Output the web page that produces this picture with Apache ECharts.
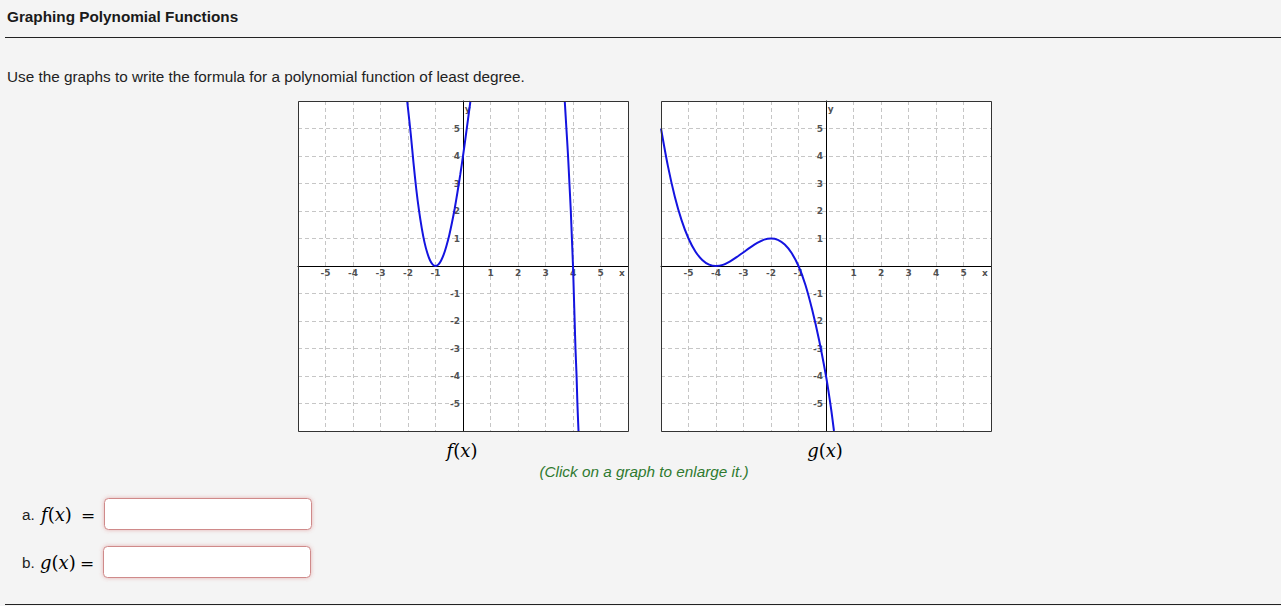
<!DOCTYPE html>
<html>
<head>
<meta charset="utf-8">
<script src="https://cdn.jsdelivr.net/npm/echarts@6/dist/echarts.min.js"></script>
<style>
html,body{margin:0;padding:0;background:#f4f4f4;}
#c{width:1281px;height:606px;}
</style>
</head>
<body>
<div id="c"></div>
<script>
// ---- data ----
const tickValues = [-5, -4, -3, -2, -1, 1, 2, 3, 4, 5];
const axisMin = -6;
const axisMax = 6;

// f(x): left branch (touches x-axis at -1, passes (0,4))
const fLeftX = [-2.03, -1.9, -1.8, -1.7, -1.6, -1.5, -1.4, -1.3, -1.2, -1.1, -1.0, -0.9, -0.8, -0.7, -0.6, -0.5, -0.4, -0.3, -0.2, -0.1, 0.0, 0.1, 0.2, 0.27];
const fLeftY = [6.0, 4.8, 3.75, 2.8, 2.02, 1.38, 0.86, 0.48, 0.21, 0.05, 0.0, 0.05, 0.19, 0.42, 0.74, 1.12, 1.58, 2.1, 2.69, 3.32, 4.0, 4.72, 5.47, 6.0];
// f(x): right branch (crosses at 4)
const fRightX = [3.7, 3.76, 3.82, 3.87, 3.92, 3.96, 4.0, 4.03, 4.06, 4.09, 4.13, 4.16, 4.2];
const fRightY = [6.0, 5.0, 4.0, 3.0, 2.0, 1.0, 0.0, -1.0, -2.0, -3.0, -4.0, -5.0, -6.0];

// g(x): touches at -4, max (-2,1), crosses at -1, passes (0,-4)
const gX = [-6.0, -5.75, -5.5, -5.25, -5.0, -4.75, -4.5, -4.25, -4.0, -3.75, -3.5, -3.25, -3.0, -2.75, -2.5, -2.25, -2.0, -1.75, -1.5, -1.25, -1.0, -0.75, -0.5, -0.25, 0.0, 0.1, 0.2, 0.29];
const gY = [5.0, 3.64, 2.53, 1.66, 1.0, 0.53, 0.22, 0.05, 0.0, 0.04, 0.16, 0.32, 0.5, 0.68, 0.84, 0.96, 1.0, 0.95, 0.78, 0.47, 0.0, -0.68, -1.6, -2.7, -4.0, -4.62, -5.3, -6.0];

const axisNameX = [[5.78, -0.27]];
const axisNameY = [[0.17, 5.72]];

const zip = (xs, ys) => xs.map((x, i) => [x, ys[i]]);

// ---- layout ----
const grids = [
  {left: 298, top: 101, width: 330, height: 330},
  {left: 661, top: 101, width: 330, height: 330}
];

const tickFont = {fontFamily: 'DejaVu Sans', fontWeight: 'bold', fontSize: 9, color: '#222'};

function axis(i) {
  return {
    type: 'value', gridIndex: i, min: axisMin, max: axisMax, interval: 1,
    axisLine: {onZero: true, lineStyle: {color: '#000', width: 1}},
    axisTick: {show: false},
    axisLabel: {show: false},
    splitLine: {show: true, lineStyle: {type: [4, 3], color: '#c6c6c6', width: 1}}
  };
}

const curveStyle = {color: '#1414e0', width: 2};
function curve(i, data) {
  return {
    type: 'line', xAxisIndex: i, yAxisIndex: i, data: data,
    showSymbol: false, smooth: 0.3, clip: true, silent: true,
    lineStyle: curveStyle, itemStyle: {color: curveStyle.color}, z: 5
  };
}
function textMarks(i, data, position, distance, fmt) {
  return {
    type: 'scatter', xAxisIndex: i, yAxisIndex: i, data: data, symbolSize: 0, silent: true, z: 3,
    label: Object.assign({show: true, position: position, distance: distance, formatter: fmt}, tickFont)
  };
}
// tick labels sitting on the axes through the origin
const xTickData = tickValues.map(v => [v, 0]);
const yTickData = tickValues.map(v => [0, v]);
const xTickFmt = p => String(p.value[0]);
const yTickFmt = p => String(p.value[1]);

const serif = 'DejaVu Serif';
function mathText(fn) {
  return {
    text: '{i|' + fn + '}{u|(}{i|x}{u|)}',
    rich: {
      i: {fontFamily: serif, fontStyle: 'italic', fontSize: 18, fill: '#000'},
      u: {fontFamily: serif, fontSize: 18, fill: '#000'}
    }
  };
}
const sans = 'Liberation Sans';
const bodySize = 15.3;

const chart = echarts.init(document.getElementById('c'), null, {renderer: 'svg'});
chart.setOption({
  backgroundColor: '#f4f4f4',
  animation: false,
  grid: grids.map(g => Object.assign({show: true, backgroundColor: '#fff', borderWidth: 0, containLabel: false, outerBoundsMode: 'none'}, g)),
  xAxis: [axis(0), axis(1)],
  yAxis: [axis(0), axis(1)],
  series: [
    curve(0, zip(fLeftX, fLeftY)),
    curve(0, zip(fRightX, fRightY)),
    curve(1, zip(gX, gY)),
    textMarks(0, xTickData, 'bottom', 2, xTickFmt),
    textMarks(0, yTickData, 'left', 3, yTickFmt),
    textMarks(1, xTickData, 'bottom', 2, xTickFmt),
    textMarks(1, yTickData, 'left', 3, yTickFmt),
    textMarks(0, axisNameX, 'inside', 0, 'x'),
    textMarks(0, axisNameY, 'inside', 0, 'y'),
    textMarks(1, axisNameX, 'inside', 0, 'x'),
    textMarks(1, axisNameY, 'inside', 0, 'y')
  ],
  graphic: [
    // frames round the two graphs
    {type: 'rect', z: 100, silent: true, shape: {x: 298.5, y: 101.5, width: 330, height: 330}, style: {fill: 'none', stroke: '#333', lineWidth: 1}},
    {type: 'rect', z: 100, silent: true, shape: {x: 661.5, y: 101.5, width: 330, height: 330}, style: {fill: 'none', stroke: '#333', lineWidth: 1}},
    // page header
    {type: 'text', x: 7, y: 16, style: {text: 'Graphing Polynomial Functions', verticalAlign: 'middle', fontFamily: sans, fontWeight: 'bold', fontSize: bodySize, fill: '#1a1a1a'}},
    {type: 'line', silent: true, shape: {x1: 5, y1: 37.5, x2: 1281, y2: 37.5}, style: {stroke: '#222', lineWidth: 1}},
    {type: 'text', x: 7, y: 76, style: {text: 'Use the graphs to write the formula for a polynomial function of least degree.', verticalAlign: 'middle', fontFamily: sans, fontSize: bodySize, fill: '#222'}},
    // captions
    {type: 'text', x: 462, y: 450, style: Object.assign({align: 'center', verticalAlign: 'middle'}, mathText('f'))},
    {type: 'text', x: 825, y: 450, style: Object.assign({align: 'center', verticalAlign: 'middle'}, mathText('g'))},
    {type: 'text', x: 644, y: 471, style: {text: '(Click on a graph to enlarge it.)', align: 'center', verticalAlign: 'middle', fontFamily: sans, fontStyle: 'italic', fontSize: bodySize, fill: '#2f7a2f'}},
    // answer rows
    {type: 'text', x: 22, y: 514, style: {text: 'a.', verticalAlign: 'middle', fontFamily: sans, fontSize: bodySize, fill: '#222'}},
    {type: 'text', x: 41, y: 514, style: Object.assign({verticalAlign: 'middle'}, mathText('f'))},
    {type: 'text', x: 81, y: 515, style: {text: '=', verticalAlign: 'middle', fontFamily: serif, fontSize: 17, fill: '#000'}},
    {type: 'rect', shape: {x: 104.5, y: 498.5, width: 207, height: 31, r: 4}, style: {fill: '#fff', stroke: '#cf8a8a', lineWidth: 1, shadowBlur: 4, shadowColor: 'rgba(210,90,90,0.45)'}},
    {type: 'text', x: 22, y: 562, style: {text: 'b.', verticalAlign: 'middle', fontFamily: sans, fontSize: bodySize, fill: '#222'}},
    {type: 'text', x: 40, y: 562, style: Object.assign({verticalAlign: 'middle'}, mathText('g'))},
    {type: 'text', x: 80, y: 563, style: {text: '=', verticalAlign: 'middle', fontFamily: serif, fontSize: 17, fill: '#000'}},
    {type: 'rect', shape: {x: 103.5, y: 546.5, width: 207, height: 31, r: 4}, style: {fill: '#fff', stroke: '#cf8a8a', lineWidth: 1, shadowBlur: 4, shadowColor: 'rgba(210,90,90,0.45)'}},
    {type: 'line', silent: true, shape: {x1: 5, y1: 604.5, x2: 1281, y2: 604.5}, style: {stroke: '#222', lineWidth: 1}}
  ]
});
</script>
</body>
</html>
